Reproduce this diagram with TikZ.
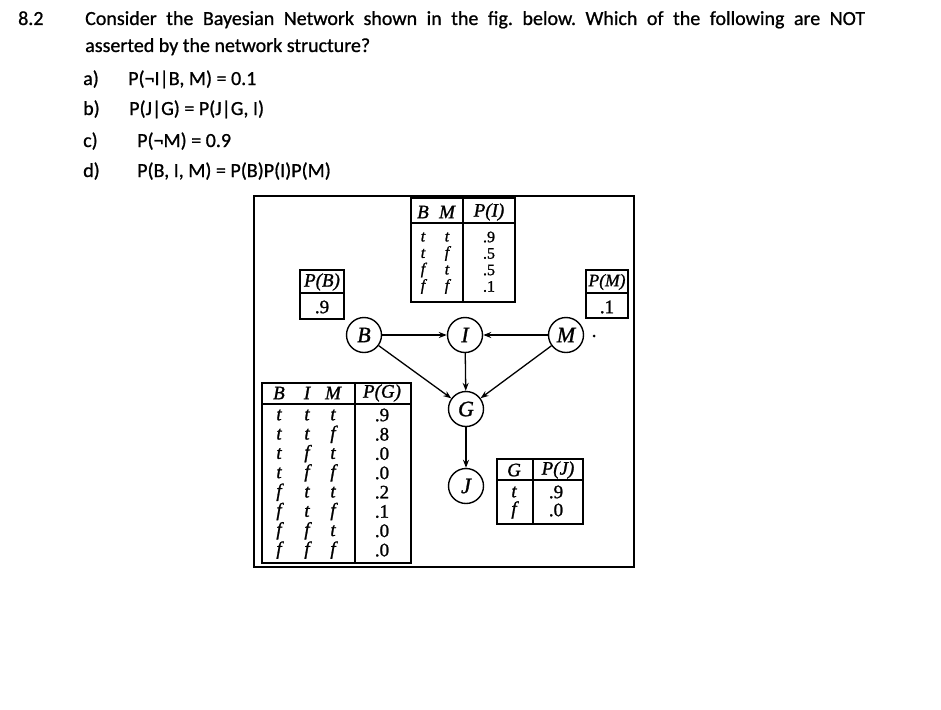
\documentclass[tikz,border=0pt]{standalone}
\usepackage{fontspec}
\setmainfont{Carlito}[FakeBold=0.9]
\newfontfamily\tms{Liberation Serif}[FakeBold=1.2]
\newfontfamily\tmsit{Liberation Serif Italic}[FakeBold=1.2]
\usetikzlibrary{arrows.meta}
\frenchspacing
\begin{document}
\begin{tikzpicture}[x=1pt,y=-1pt,
  q/.style={anchor=base west,inner sep=0pt,font=\fontsize{20}{24}\selectfont},
  bn/.style={circle,draw,line width=1.4pt,minimum size=35pt,inner sep=0pt,font=\tmsit\fontsize{22}{22}\selectfont},
  tb/.style={draw,line width=1.5pt},
  tt/.style={inner sep=0pt,font=\tmsit\fontsize{19}{19}\selectfont},
  tv/.style={inner sep=0pt,font=\tms\fontsize{19}{19}\selectfont},
  tts/.style={inner sep=0pt,font=\tmsit\fontsize{16}{16}\selectfont},
  tvs/.style={inner sep=0pt,font=\tms\fontsize{16}{16}\selectfont},
  arr/.style={line width=1.3pt,-{Stealth[length=8pt,width=6pt]}}
]
\useasboundingbox (0,0) rectangle (941,709);
% question text
\node[q] (num) at (18,25) {8.2};
\node[q] (l1) at (85,25) {\makebox[780pt][s]{Consider the Bayesian Network shown in the fig. below. Which of the following are NOT}};
\node[q] (l2) at (85,52) {asserted by the network structure?};
\node[q] (la) at (83,85) {a)};
\node[q] (ea) at (128,85) {P(¬I|B, M) = 0.1};
\node[q] (lb) at (83,115) {b)};
\node[q] (eb) at (129,115) {P(J|G) = P(J|G, I)};
\node[q] (lc) at (83,147) {c)};
\node[q] (ec) at (137,147) {P(¬M) = 0.9};
\node[q] (ld) at (83,177) {d)};
\node[q] (ed) at (137,177) {P(B, I, M) = P(B)P(I)P(M)};
% frame
\draw[line width=1.8pt] (254,196) rectangle (634,567);
% network nodes
\node[bn] (B) at (364,335) {B};
\node[bn] (I) at (465,335) {I};
\node[bn] (M) at (566,335) {M};
\node[bn] (G) at (466,409) {G};
\node[bn] (J) at (466,486) {J};
\fill (594,336) circle (1.5pt);
\draw[arr] (B) -- (I);
\draw[arr] (M) -- (I);
\draw[arr] (B) -- (G);
\draw[arr] (I) -- (G);
\draw[arr] (M) -- (G);
\draw[arr] (G) -- (J);
% P(B)
\draw[tb] (300,270) rectangle (344,319);
\draw[tb] (300,293) -- (344,293);
\node[tt] (pbh) at (322,282) {P(B)};
\node[tv] (pbv) at (322,307) {.9};
% P(M)
\draw[tb] (586,270) rectangle (628,318);
\draw[tb] (586,293) -- (628,293);
\node[tt,font=\tmsit\fontsize{17.5}{18}\selectfont] (pmh) at (607,282) {P(M)};
\node[tv] (pmv) at (607,307) {.1};
% P(I)
\draw[tb] (411,198) rectangle (515,302);
\draw[tb] (411,223) -- (515,223);
\draw[tb] (463,198) -- (463,302);
\node[tt] (pib) at (423,212) {B};
\node[tt] (pim) at (447,212) {M};
\node[tt] (pih) at (489,212) {P(I)};
\foreach \y/\b/\m/\v [count=\k] in {237/t/t/.9, 253.5/t/f/.5, 270/f/t/.5, 286.5/f/f/.1}{
  \node[tts] (pib\k) at (423,\y) {\b};
  \node[tts] (pim\k) at (447,\y) {\m};
  \node[tvs] (piv\k) at (489,\y) {\v};
}
% P(G)
\draw[tb,line width=1.8pt] (262,383) rectangle (411,563);
\draw[tb] (262,404) -- (411,404);
\draw[tb] (355,383) -- (355,563);
\node[tt] (pgb) at (279,393) {B};
\node[tt] (pgi) at (307,393) {I};
\node[tt] (pgm) at (333,393) {M};
\node[tt] (pgh) at (382,393) {P(G)};
\foreach \b/\i/\m/\v [count=\k] in {t/t/t/.9, t/t/f/.8, t/f/t/.0, t/f/f/.0, f/t/t/.2, f/t/f/.1, f/f/t/.0, f/f/f/.0}{
  \pgfmathsetmacro\yy{415+19.3*(\k-1)}
  \node[tt] (pgb\k) at (279,\yy) {\b};
  \node[tt] (pgi\k) at (307,\yy) {\i};
  \node[tt] (pgm\k) at (333,\yy) {\m};
  \node[tv] (pgv\k) at (382,\yy) {\v};
}
% P(J)
\draw[tb] (497,459) rectangle (583,524);
\draw[tb] (497,480) -- (583,480);
\draw[tb] (533,459) -- (533,524);
\node[tt] (pjg) at (514,470) {G};
\node[tt] (pjh) at (558,470) {P(J)};
\node[tt] (pjt) at (514,492) {t};
\node[tt] (pjf) at (514,510) {f};
\node[tv] (pj1) at (556,492) {.9};
\node[tv] (pj2) at (556,510) {.0};
\end{tikzpicture}
\end{document}
